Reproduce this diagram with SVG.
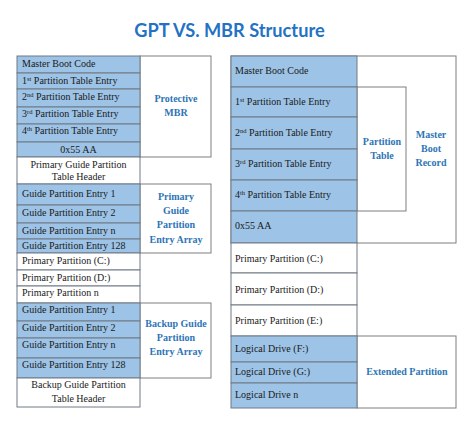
<svg xmlns="http://www.w3.org/2000/svg" width="474" height="436" viewBox="0 0 474 436">
<style>
.bg{fill:#ffffff}
.cb{fill:#9dc3e6;stroke:#6f7a86;stroke-width:1}
.cw{fill:#ffffff;stroke:#6f7a86;stroke-width:1}
.bx{fill:none;stroke:#7f7f7f;stroke-width:1}
.t{font-family:"Liberation Serif","Times New Roman",serif;font-size:10px;fill:#1a1a1a}
.tc{text-anchor:middle}
.l{font-family:"Liberation Serif","Times New Roman",serif;font-size:10px;font-weight:bold;fill:#2e75b6;text-anchor:middle}
.sup{font-size:6.5px}
.title{font-family:Lato,"Open Sans","Liberation Sans",Arial,sans-serif;font-size:18.2px;font-weight:bold;fill:#2372c4;text-anchor:middle}
</style>
<rect class="bg" x="0" y="0" width="474" height="436"/>
<text class="title" x="229.5" y="37">GPT VS. MBR Structure</text>

<g id="gpt">
  <g id="pmbr-box"><rect class="bx" x="140" y="56" width="71" height="101"/></g>
  <g id="g-mbc"><rect class="cb" x="17" y="56" width="123" height="17"/><text class="t" x="22" y="67">Master Boot Code</text></g>
  <g id="g-pt1"><rect class="cb" x="17" y="73" width="123" height="16"/><text class="t" x="22" y="84">1<tspan class="sup" dy="-3.5">st</tspan><tspan dy="3.5"> Partition Table Entry</tspan></text></g>
  <g id="g-pt2"><rect class="cb" x="17" y="89" width="123" height="18"/><text class="t" x="22" y="100">2<tspan class="sup" dy="-3.5">nd</tspan><tspan dy="3.5"> Partition Table Entry</tspan></text></g>
  <g id="g-pt3"><rect class="cb" x="17" y="107" width="123" height="17"/><text class="t" x="22" y="117">3<tspan class="sup" dy="-3.5">rd</tspan><tspan dy="3.5"> Partition Table Entry</tspan></text></g>
  <g id="g-pt4"><rect class="cb" x="17" y="124" width="123" height="18"/><text class="t" x="22" y="134">4<tspan class="sup" dy="-3.5">th</tspan><tspan dy="3.5"> Partition Table Entry</tspan></text></g>
  <g id="g-55aa"><rect class="cb" x="17" y="142" width="123" height="15"/><text class="t tc" x="78.5" y="153">0x55 AA</text></g>
  <g id="g-pmbr-label"><text class="l" x="176" y="102">Protective</text><text class="l" x="176" y="116">MBR</text></g>

  <g id="g-pgpth"><rect class="cw" x="17" y="157" width="123" height="27"/><text class="t tc" x="78.5" y="168">Primary Guide Partition</text><text class="t tc" x="78.5" y="180">Table Header</text></g>

  <g id="pgpea-box"><rect class="bx" x="140" y="184" width="71" height="69"/></g>
  <g id="g-ge1"><rect class="cb" x="17" y="184" width="123" height="21"/><text class="t" x="22" y="197">Guide Partition Entry 1</text></g>
  <g id="g-ge2"><rect class="cb" x="17" y="205" width="123" height="18"/><text class="t" x="22" y="216">Guide Partition Entry 2</text></g>
  <g id="g-gen"><rect class="cb" x="17" y="223" width="123" height="16"/><text class="t" x="22" y="234">Guide Partition Entry n</text></g>
  <g id="g-ge128"><rect class="cb" x="17" y="239" width="123" height="14"/><text class="t" x="22" y="249">Guide Partition Entry 128</text></g>
  <g id="g-pgpea-label"><text class="l" x="176" y="200">Primary</text><text class="l" x="176" y="214">Guide</text><text class="l" x="176" y="228">Partition</text><text class="l" x="176" y="243">Entry Array</text></g>

  <g id="g-ppc"><rect class="cw" x="17" y="253" width="123" height="17"/><text class="t" x="22" y="264">Primary Partition (C:)</text></g>
  <g id="g-ppd"><rect class="cw" x="17" y="270" width="123" height="16"/><text class="t" x="22" y="281">Primary Partition (D:)</text></g>
  <g id="g-ppn"><rect class="cw" x="17" y="286" width="123" height="17"/><text class="t" x="22" y="296">Primary Partition n</text></g>

  <g id="bgpea-box"><rect class="bx" x="140" y="303" width="71" height="75"/></g>
  <g id="g-bge1"><rect class="cb" x="17" y="303" width="123" height="18"/><text class="t" x="22" y="313">Guide Partition Entry 1</text></g>
  <g id="g-bge2"><rect class="cb" x="17" y="321" width="123" height="17"/><text class="t" x="22" y="331">Guide Partition Entry 2</text></g>
  <g id="g-bgen"><rect class="cb" x="17" y="338" width="123" height="20"/><text class="t" x="22" y="348">Guide Partition Entry n</text></g>
  <g id="g-bge128"><rect class="cb" x="17" y="358" width="123" height="20"/><text class="t" x="22" y="368">Guide Partition Entry 128</text></g>
  <g id="g-bgpea-label"><text class="l" x="176" y="327">Backup Guide</text><text class="l" x="176" y="341">Partition</text><text class="l" x="176" y="355">Entry Array</text></g>

  <g id="g-bgpth"><rect class="cw" x="17" y="378" width="123" height="29"/><text class="t tc" x="78.5" y="388">Backup Guide Partition</text><text class="t tc" x="78.5" y="402">Table Header</text></g>
</g>

<g id="mbr">
  <g id="mbr-box"><rect class="bx" x="231" y="56" width="225" height="187"/></g>
  <g id="pt-box"><rect class="bx" x="357" y="87" width="49" height="124"/></g>
  <g id="m-mbc"><rect class="cb" x="231" y="56" width="126" height="31"/><text class="t" x="235" y="74">Master Boot Code</text></g>
  <g id="m-pt1"><rect class="cb" x="231" y="87" width="126" height="30"/><text class="t" x="235" y="105">1<tspan class="sup" dy="-3.5">st</tspan><tspan dy="3.5"> Partition Table Entry</tspan></text></g>
  <g id="m-pt2"><rect class="cb" x="231" y="117" width="126" height="32"/><text class="t" x="235" y="136">2<tspan class="sup" dy="-3.5">nd</tspan><tspan dy="3.5"> Partition Table Entry</tspan></text></g>
  <g id="m-pt3"><rect class="cb" x="231" y="149" width="126" height="31"/><text class="t" x="235" y="167">3<tspan class="sup" dy="-3.5">rd</tspan><tspan dy="3.5"> Partition Table Entry</tspan></text></g>
  <g id="m-pt4"><rect class="cb" x="231" y="180" width="126" height="31"/><text class="t" x="235" y="198">4<tspan class="sup" dy="-3.5">th</tspan><tspan dy="3.5"> Partition Table Entry</tspan></text></g>
  <g id="m-55aa"><rect class="cb" x="231" y="211" width="126" height="32"/><text class="t" x="235" y="229">0x55 AA</text></g>
  <g id="m-pt-label"><text class="l" x="382" y="145">Partition</text><text class="l" x="382" y="159">Table</text></g>
  <g id="m-mbr-label"><text class="l" x="431" y="138">Master</text><text class="l" x="431" y="152">Boot</text><text class="l" x="431" y="166">Record</text></g>

  <g id="m-ppc"><rect class="cw" x="231" y="243" width="126" height="30"/><text class="t" x="235" y="262">Primary Partition (C:)</text></g>
  <g id="m-ppd"><rect class="cw" x="231" y="273" width="126" height="32"/><text class="t" x="235" y="293">Primary Partition (D:)</text></g>
  <g id="m-ppe"><rect class="cw" x="231" y="305" width="126" height="31"/><text class="t" x="235" y="324">Primary Partition (E:)</text></g>

  <g id="ext-box"><rect class="bx" x="357" y="336" width="99" height="72"/></g>
  <g id="m-ldf"><rect class="cb" x="231" y="336" width="126" height="26"/><text class="t" x="235" y="352">Logical Drive (F:)</text></g>
  <g id="m-ldg"><rect class="cb" x="231" y="362" width="126" height="21"/><text class="t" x="235" y="375">Logical Drive (G:)</text></g>
  <g id="m-ldn"><rect class="cb" x="231" y="383" width="126" height="25"/><text class="t" x="235" y="398">Logical Drive n</text></g>
  <g id="m-ext-label"><text class="l" x="407" y="375">Extended Partition</text></g>
</g>
<g id="connectors"></g>
</svg>
